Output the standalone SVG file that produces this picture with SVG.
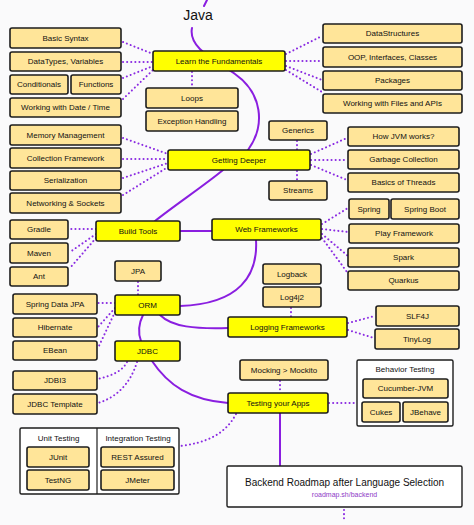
<svg xmlns="http://www.w3.org/2000/svg" width="474" height="525" viewBox="0 0 474 525">
<style>
.bg{fill:#fafafb}
.n rect{fill:#ffe599;stroke:#1d1d1d;stroke-width:1.6}
.m rect{fill:#ffff00;stroke:#1d1d1d;stroke-width:1.6}
.c rect.box{fill:#ffffff;stroke:#1d1d1d;stroke-width:1.4}
text{font-family:"Liberation Sans",Arial,sans-serif;font-size:8px;fill:#111;text-anchor:middle;dominant-baseline:central}
.sol{fill:none;stroke:#8a1ee0;stroke-width:2;stroke-linecap:round}
.dot{fill:none;stroke:#8a2be2;stroke-width:2;stroke-linecap:round;stroke-dasharray:0.1 4}
</style>
<rect class="bg" x="0" y="0" width="474" height="525"/>
<g id="connectors">
<path class="sol" d="M207,0 L204,6"/>
<path class="sol" d="M192,28 C188,48 215,60 235,74 C262,93 266,125 248,150"/>
<path class="sol" d="M223,170 C205,185 175,205 155,221"/>
<path class="sol" d="M180,231 L212,231"/>
<path class="sol" d="M256,240 C258,275 240,304 180,306"/>
<path class="sol" d="M160,315 C172,327 195,329 228,328"/>
<path class="sol" d="M143,315 C138,325 138,333 141,341"/>
<path class="sol" d="M152,361 C168,385 190,400 228,403"/>
<path class="sol" d="M280,413 L280,466"/>
<path class="dot" d="M123,42 L153,54"/>
<path class="dot" d="M123,62 L153,62"/>
<path class="dot" d="M123,78 L153,66"/>
<path class="dot" d="M123,99 L153,70"/>
<path class="dot" d="M286,54 L322,36"/>
<path class="dot" d="M286,61 L322,61"/>
<path class="dot" d="M286,66 L322,80"/>
<path class="dot" d="M286,70 L322,92"/>
<path class="dot" d="M192,72 L192,88"/>
<path class="dot" d="M123,138 L168,154"/>
<path class="dot" d="M123,159 L168,159"/>
<path class="dot" d="M123,178 L168,163"/>
<path class="dot" d="M123,195 L168,167"/>
<path class="dot" d="M297,141 L297,150"/>
<path class="dot" d="M297,171 L297,181"/>
<path class="dot" d="M311,154 L347,138"/>
<path class="dot" d="M311,160 L347,160"/>
<path class="dot" d="M311,165 L347,180"/>
<path class="dot" d="M96,229 L70,229"/>
<path class="dot" d="M96,234 L70,252"/>
<path class="dot" d="M96,238 L70,268"/>
<path class="dot" d="M322,224 L348,208"/>
<path class="dot" d="M322,229 L348,232"/>
<path class="dot" d="M322,234 L348,256"/>
<path class="dot" d="M322,238 L347,272"/>
<path class="dot" d="M138,282 L138,295"/>
<path class="dot" d="M115,303 L98,303"/>
<path class="dot" d="M115,308 L98,327"/>
<path class="dot" d="M115,312 L98,348"/>
<path class="dot" d="M127,362 C122,372 110,376 98,379"/>
<path class="dot" d="M137,362 C130,385 115,398 98,403"/>
<path class="dot" d="M291,308 L291,317"/>
<path class="dot" d="M348,323 L375,316"/>
<path class="dot" d="M348,330 L374,338"/>
<path class="dot" d="M280,381 L280,393"/>
<path class="dot" d="M329,403 L357,403"/>
<path class="dot" d="M236,414 C225,435 205,443 180,446"/>
<path class="dot" d="M344,510 L344,522"/>
</g>
<g id="java"><text x="198" y="15" style="font-size:14px">Java</text></g>
<g id="fundamentals" class="m"><rect x="153" y="51" width="132" height="20" rx="2"/><text x="219" y="61">Learn the Fundamentals</text></g>
<g id="basic-syntax" class="n"><rect x="10" y="28" width="111" height="20" rx="2"/><text x="65.5" y="38">Basic Syntax</text></g>
<g id="datatypes" class="n"><rect x="10" y="52" width="111" height="19" rx="2"/><text x="65.5" y="61.5">DataTypes, Variables</text></g>
<g id="conditionals" class="n"><rect x="10" y="75" width="58" height="19" rx="2"/><text x="39" y="84.5">Conditionals</text></g>
<g id="functions" class="n"><rect x="71" y="75" width="50" height="19" rx="2"/><text x="96" y="84.5">Functions</text></g>
<g id="date-time" class="n"><rect x="10" y="98" width="111" height="19" rx="2"/><text x="65.5" y="107.5">Working with Date / Time</text></g>
<g id="loops" class="n"><rect x="146" y="88" width="92" height="20" rx="2"/><text x="192" y="98">Loops</text></g>
<g id="exceptions" class="n"><rect x="146" y="111" width="92" height="20" rx="2"/><text x="192" y="121">Exception Handling</text></g>
<g id="datastructures" class="n"><rect x="323" y="24" width="139" height="19" rx="2"/><text x="392.5" y="33.5">DataStructures</text></g>
<g id="oop" class="n"><rect x="323" y="47" width="139" height="20" rx="2"/><text x="392.5" y="57">OOP, Interfaces, Classes</text></g>
<g id="packages" class="n"><rect x="323" y="71" width="139" height="19" rx="2"/><text x="392.5" y="80.5">Packages</text></g>
<g id="files-apis" class="n"><rect x="323" y="94" width="139" height="19" rx="2"/><text x="392.5" y="103.5">Working with Files and APIs</text></g>
<g id="memory" class="n"><rect x="10" y="125" width="111" height="20" rx="2"/><text x="65.5" y="135">Memory Management</text></g>
<g id="collections" class="n"><rect x="10" y="148" width="111" height="20" rx="2"/><text x="65.5" y="158">Collection Framework</text></g>
<g id="serialization" class="n"><rect x="10" y="171" width="111" height="19" rx="2"/><text x="65.5" y="180.5">Serialization</text></g>
<g id="networking" class="n"><rect x="10" y="193" width="111" height="20" rx="2"/><text x="65.5" y="203">Networking &amp; Sockets</text></g>
<g id="deeper" class="m"><rect x="168" y="150" width="142" height="20" rx="2"/><text x="239" y="160">Getting Deeper</text></g>
<g id="generics" class="n"><rect x="269" y="121" width="58" height="19" rx="2"/><text x="298" y="130.5">Generics</text></g>
<g id="streams" class="n"><rect x="269" y="181" width="58" height="19" rx="2"/><text x="298" y="190.5">Streams</text></g>
<g id="jvm" class="n"><rect x="348" y="127" width="111" height="19" rx="2"/><text x="403.5" y="136.5">How JVM works?</text></g>
<g id="gc" class="n"><rect x="348" y="150" width="111" height="19" rx="2"/><text x="403.5" y="159.5">Garbage Collection</text></g>
<g id="threads" class="n"><rect x="348" y="173" width="111" height="19" rx="2"/><text x="403.5" y="182.5">Basics of Threads</text></g>
<g id="gradle" class="n"><rect x="10" y="220" width="58" height="19" rx="2"/><text x="39" y="229.5">Gradle</text></g>
<g id="maven" class="n"><rect x="10" y="243" width="58" height="20" rx="2"/><text x="39" y="253">Maven</text></g>
<g id="ant" class="n"><rect x="10" y="267" width="58" height="19" rx="2"/><text x="39" y="276.5">Ant</text></g>
<g id="build-tools" class="m"><rect x="96" y="221" width="84" height="20" rx="2"/><text x="138" y="231">Build Tools</text></g>
<g id="web-frameworks" class="m"><rect x="212" y="219" width="109" height="21" rx="2"/><text x="266.5" y="229.5">Web Frameworks</text></g>
<g id="spring" class="n"><rect x="349" y="199" width="40" height="20" rx="2"/><text x="369" y="209">Spring</text></g>
<g id="spring-boot" class="n"><rect x="391" y="199" width="68" height="20" rx="2"/><text x="425" y="209">Spring Boot</text></g>
<g id="play" class="n"><rect x="349" y="224" width="110" height="19" rx="2"/><text x="404" y="233.5">Play Framework</text></g>
<g id="spark" class="n"><rect x="348" y="248" width="111" height="19" rx="2"/><text x="403.5" y="257.5">Spark</text></g>
<g id="quarkus" class="n"><rect x="348" y="271" width="111" height="19" rx="2"/><text x="403.5" y="280.5">Quarkus</text></g>
<g id="jpa" class="n"><rect x="115" y="261" width="46" height="20" rx="2"/><text x="138" y="271">JPA</text></g>
<g id="orm" class="m"><rect x="115" y="295" width="65" height="20" rx="2"/><text x="147.5" y="305">ORM</text></g>
<g id="jdbc" class="m"><rect x="115" y="341" width="65" height="20" rx="2"/><text x="147.5" y="351">JDBC</text></g>
<g id="spring-data-jpa" class="n"><rect x="13" y="294" width="84" height="20" rx="2"/><text x="55" y="304">Spring Data JPA</text></g>
<g id="hibernate" class="n"><rect x="13" y="318" width="84" height="19" rx="2"/><text x="55" y="327.5">Hibernate</text></g>
<g id="ebean" class="n"><rect x="13" y="341" width="84" height="19" rx="2"/><text x="55" y="350.5">EBean</text></g>
<g id="jdbi3" class="n"><rect x="13" y="371" width="84" height="19" rx="2"/><text x="55" y="380.5">JDBI3</text></g>
<g id="jdbc-template" class="n"><rect x="13" y="394" width="84" height="20" rx="2"/><text x="55" y="404">JDBC Template</text></g>
<g id="logback" class="n"><rect x="263" y="264" width="58" height="20" rx="2"/><text x="292" y="274">Logback</text></g>
<g id="log4j2" class="n"><rect x="263" y="287" width="58" height="20" rx="2"/><text x="292" y="297">Log4j2</text></g>
<g id="logging" class="m"><rect x="228" y="317" width="119" height="20" rx="2"/><text x="287.5" y="327">Logging Frameworks</text></g>
<g id="slf4j" class="n"><rect x="376" y="306" width="83" height="20" rx="2"/><text x="417.5" y="316">SLF4J</text></g>
<g id="tinylog" class="n"><rect x="375" y="329" width="84" height="20" rx="2"/><text x="417" y="339">TinyLog</text></g>
<g id="mocking" class="n"><rect x="240" y="360" width="88" height="20" rx="2"/><text x="284" y="370">Mocking &gt; Mockito</text></g>
<g id="testing" class="m"><rect x="228" y="393" width="100" height="20" rx="2"/><text x="278" y="403">Testing your Apps</text></g>
<g id="behavior-testing" class="c"><rect class="box" x="357" y="360" width="96" height="66" rx="1.5"/><text x="405" y="369.5">Behavior Testing</text></g>
<g id="cucumber" class="n"><rect x="363" y="379" width="85" height="19" rx="2"/><text x="405.5" y="388.5">Cucumber-JVM</text></g>
<g id="cukes" class="n"><rect x="362" y="402" width="38" height="20" rx="2"/><text x="381" y="412">Cukes</text></g>
<g id="jbehave" class="n"><rect x="403" y="402" width="45" height="20" rx="2"/><text x="425.5" y="412">JBehave</text></g>
<g id="unit-integration" class="c"><rect class="box" x="20" y="428" width="159" height="66" rx="1.5"/><line x1="97" y1="428" x2="97" y2="494" stroke="#1d1d1d" stroke-width="1.2"/><text x="58.5" y="438.5">Unit Testing</text><text x="138" y="438.5">Integration Testing</text></g>
<g id="junit" class="n"><rect x="27" y="447" width="62" height="20" rx="2"/><text x="58" y="457">JUnit</text></g>
<g id="testng" class="n"><rect x="27" y="470" width="62" height="20" rx="2"/><text x="58" y="480">TestNG</text></g>
<g id="rest-assured" class="n"><rect x="101" y="447" width="73" height="20" rx="2"/><text x="137.5" y="457">REST Assured</text></g>
<g id="jmeter" class="n"><rect x="101" y="470" width="73" height="20" rx="2"/><text x="137.5" y="480">JMeter</text></g>
<g id="backend" class="c"><rect class="box" x="227" y="466" width="235" height="41" rx="1.5"/><text x="344.5" y="482" style="font-size:10px">Backend Roadmap after Language Selection</text><text x="344.5" y="494.5" style="font-size:7px;fill:#8e3bc7">roadmap.sh/backend</text></g>
</svg>
